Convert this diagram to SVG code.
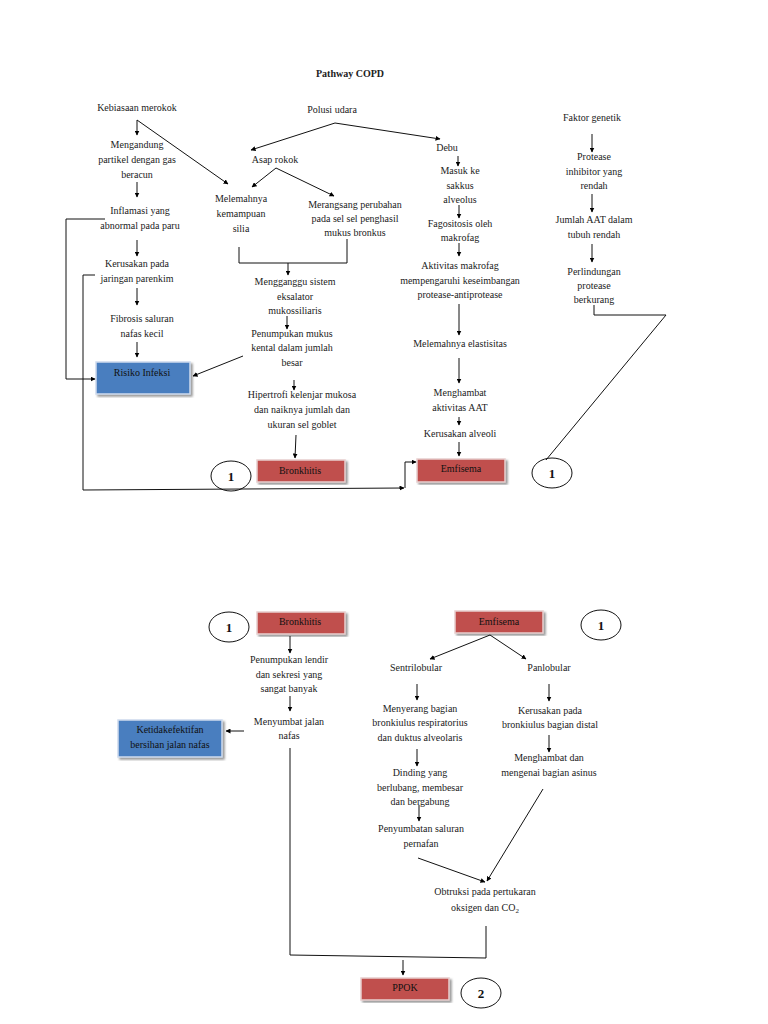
<svg xmlns="http://www.w3.org/2000/svg" width="768" height="1024" viewBox="0 0 768 1024">
<defs>
<marker id="a" viewBox="0 0 10 10" refX="9" refY="5" markerWidth="5" markerHeight="5" orient="auto"><path d="M0,0L10,5L0,10z" fill="#000"/></marker>
<filter id="sh"><feDropShadow dx="2" dy="2" stdDeviation="1" flood-color="#999"/></filter>
</defs>
<style>
text{font-family:"Liberation Serif",serif;font-size:10px;fill:#222;text-anchor:middle}
.c line,.c polyline,.c path{stroke:#111;stroke-width:1;fill:none}
.ar{marker-end:url(#a)}
.red{fill:#c0504d;stroke:#e8d0d0;stroke-width:1.5;filter:url(#sh)}
.blue{fill:#4a7ebf;stroke:#d0dcee;stroke-width:1.5;filter:url(#sh)}
.bx text{fill:#111}
ellipse{fill:#fff;stroke:#111;stroke-width:1}
.n{font-weight:bold;font-size:13px;fill:#111}
</style>
<rect width="768" height="1024" fill="#fff"/>
<text x="350" y="77" font-weight="bold">Pathway COPD</text>
<g id="nodes">
<g id="kebiasaan"><text x="137" y="111">Kebiasaan merokok</text></g>
<g id="mengandung"><text x="137" y="148">Mengandung</text><text x="137" y="163">partikel dengan gas</text><text x="137" y="178">beracun</text></g>
<g id="inflamasi"><text x="140" y="214">Inflamasi yang</text><text x="140" y="229">abnormal pada paru</text></g>
<g id="kerusakan"><text x="137" y="267">Kerusakan pada</text><text x="137" y="282">jaringan parenkim</text></g>
<g id="fibrosis"><text x="142" y="322">Fibrosis saluran</text><text x="142" y="337">nafas kecil</text></g>
<g id="risiko" class="bx"><rect class="blue" x="96" y="362" width="94" height="32"/><text x="142" y="376">Risiko Infeksi</text></g>
<g id="polusi"><text x="332" y="113">Polusi udara</text></g>
<g id="asap"><text x="275" y="163">Asap rokok</text></g>
<g id="melemahnya"><text x="241" y="202">Melemahnya</text><text x="241" y="217">kemampuan</text><text x="241" y="232">silia</text></g>
<g id="merangsang"><text x="355" y="208">Merangsang perubahan</text><text x="355" y="222">pada sel sel penghasil</text><text x="355" y="236">mukus bronkus</text></g>
<g id="mengganggu"><text x="295" y="285">Mengganggu sistem</text><text x="295" y="300">eksalator</text><text x="295" y="314">mukossiliaris</text></g>
<g id="penumpukan"><text x="292" y="337">Penumpukan mukus</text><text x="292" y="351">kental dalam jumlah</text><text x="292" y="366">besar</text></g>
<g id="hipertrofi"><text x="302" y="398">Hipertrofi kelenjar mukosa</text><text x="302" y="413">dan naiknya jumlah dan</text><text x="302" y="428">ukuran sel goblet</text></g>
<g id="bronkhitis1" class="bx"><rect class="red" x="257" y="460" width="88" height="22"/><text x="300" y="474">Bronkhitis</text></g>
<g id="c1a"><ellipse cx="231" cy="476" rx="20" ry="15"/><text class="n" x="231" y="481">1</text></g>
<g id="debu"><text x="447" y="151">Debu</text></g>
<g id="masuk"><text x="460" y="174">Masuk ke</text><text x="460" y="189">sakkus</text><text x="460" y="203">alveolus</text></g>
<g id="fagositosis"><text x="460" y="227">Fagositosis oleh</text><text x="460" y="241">makrofag</text></g>
<g id="aktivitas"><text x="460" y="269">Aktivitas makrofag</text><text x="460" y="284">mempengaruhi keseimbangan</text><text x="460" y="298">protease-antiprotease</text></g>
<g id="elastisitas"><text x="460" y="347">Melemahnya elastisitas</text></g>
<g id="menghambat"><text x="460" y="396">Menghambat</text><text x="460" y="411">aktivitas AAT</text></g>
<g id="alveoli"><text x="460" y="437">Kerusakan alveoli</text></g>
<g id="emfisema1" class="bx"><rect class="red" x="417" y="459" width="88" height="23"/><text x="461" y="472">Emfisema</text></g>
<g id="genetik"><text x="592" y="121">Faktor genetik</text></g>
<g id="protease"><text x="594" y="160">Protease</text><text x="594" y="175">inhibitor yang</text><text x="594" y="189">rendah</text></g>
<g id="jumlah"><text x="594" y="223">Jumlah AAT dalam</text><text x="594" y="238">tubuh rendah</text></g>
<g id="perlindungan"><text x="594" y="275">Perlindungan</text><text x="594" y="289">protease</text><text x="594" y="303">berkurang</text></g>
<g id="c1b"><ellipse cx="552" cy="473" rx="20" ry="15"/><text class="n" x="552" y="478">1</text></g>
<g id="c1c"><ellipse cx="229" cy="627" rx="20" ry="15"/><text class="n" x="229" y="632">1</text></g>
<g id="bronkhitis2" class="bx"><rect class="red" x="257" y="612" width="88" height="22"/><text x="300" y="625">Bronkhitis</text></g>
<g id="lendir"><text x="289" y="663">Penumpukan lendir</text><text x="289" y="678">dan sekresi yang</text><text x="289" y="692">sangat banyak</text></g>
<g id="menyumbat"><text x="289" y="725">Menyumbat jalan</text><text x="289" y="739">nafas</text></g>
<g id="ketidak" class="bx"><rect class="blue" x="118" y="720" width="104" height="37"/><text x="170" y="733">Ketidakefektifan</text><text x="170" y="748">bersihan jalan nafas</text></g>
<g id="emfisema2" class="bx"><rect class="red" x="455" y="611" width="88" height="22"/><text x="499" y="625">Emfisema</text></g>
<g id="c1d"><ellipse cx="601" cy="625" rx="20" ry="15"/><text class="n" x="601" y="630">1</text></g>
<g id="sentri"><text x="416" y="671">Sentrilobular</text></g>
<g id="panlo"><text x="549" y="671">Panlobular</text></g>
<g id="menyerang"><text x="420" y="712">Menyerang bagian</text><text x="420" y="726">bronkiulus respiratorius</text><text x="420" y="741">dan duktus alveolaris</text></g>
<g id="kerdistal"><text x="550" y="714">Kerusakan pada</text><text x="550" y="728">bronkiulus bagian distal</text></g>
<g id="asinus"><text x="549" y="761">Menghambat dan</text><text x="549" y="776">mengenai bagian asinus</text></g>
<g id="dinding"><text x="420" y="776">Dinding yang</text><text x="420" y="791">berlubang, membesar</text><text x="420" y="805">dan bergabung</text></g>
<g id="penyumbatan"><text x="421" y="832">Penyumbatan saluran</text><text x="421" y="847">pernafan</text></g>
<g id="obtruksi"><text x="485" y="895">Obtruksi pada pertukaran</text><text x="485" y="911">oksigen dan CO<tspan font-size="7" dy="2">2</tspan></text></g>
<g id="ppok" class="bx"><rect class="red" x="361" y="978" width="88" height="22"/><text x="405" y="991">PPOK</text></g>
<g id="c2"><ellipse cx="481" cy="993" rx="20" ry="15"/><text class="n" x="481" y="998">2</text></g>
</g>
<g id="connectors" class="c">
<line class="ar" x1="137" y1="120" x2="137" y2="135"/>
<line class="ar" x1="137" y1="120" x2="228" y2="184"/>
<line class="ar" x1="137" y1="182" x2="137" y2="197"/>
<line class="ar" x1="137" y1="240" x2="137" y2="256"/>
<line class="ar" x1="137" y1="288" x2="137" y2="305"/>
<line class="ar" x1="137" y1="342" x2="137" y2="357"/>
<polyline class="ar" points="105,219 66,219 66,379 95,379"/>
<polyline class="ar" points="95,275 83,275 83,490 404,488"/>
<polyline class="ar" points="405,488 405,462 416,462"/>
<line class="ar" x1="335" y1="123" x2="251" y2="150"/>
<line class="ar" x1="335" y1="123" x2="440" y2="139"/>
<line class="ar" x1="276" y1="168" x2="252" y2="187"/>
<line class="ar" x1="276" y1="168" x2="334" y2="196"/>
<polyline points="239,247 239,263 347,263 347,239"/>
<line class="ar" x1="288" y1="263" x2="288" y2="275"/>
<line class="ar" x1="287" y1="316" x2="287" y2="329"/>
<line class="ar" x1="243" y1="356" x2="193" y2="376"/>
<line class="ar" x1="294" y1="380" x2="294" y2="390"/>
<line class="ar" x1="296" y1="435" x2="295" y2="458"/>
<line class="ar" x1="458" y1="156" x2="458" y2="166"/>
<line class="ar" x1="459" y1="205" x2="459" y2="218"/>
<line class="ar" x1="459" y1="243" x2="459" y2="256"/>
<line class="ar" x1="459" y1="304" x2="459" y2="335"/>
<line class="ar" x1="459" y1="358" x2="459" y2="383"/>
<line class="ar" x1="459" y1="417" x2="459" y2="425"/>
<line class="ar" x1="459" y1="442" x2="459" y2="456"/>
<line class="ar" x1="592" y1="134" x2="592" y2="152"/>
<line class="ar" x1="592" y1="194" x2="592" y2="212"/>
<line class="ar" x1="592" y1="244" x2="592" y2="262"/>
<polyline points="594,305 594,315 666,315 546,460"/>
<line class="ar" x1="290" y1="636" x2="290" y2="653"/>
<line class="ar" x1="290" y1="696" x2="290" y2="711"/>
<line class="ar" x1="244" y1="731" x2="226" y2="731"/>
<polyline points="290,748 290,955 486,958 486,926"/>
<line class="ar" x1="403" y1="960" x2="403" y2="975"/>
<line class="ar" x1="490" y1="635" x2="430" y2="659"/>
<line class="ar" x1="490" y1="635" x2="526" y2="659"/>
<line class="ar" x1="417" y1="684" x2="417" y2="700"/>
<line class="ar" x1="549" y1="684" x2="549" y2="701"/>
<line class="ar" x1="549" y1="735" x2="549" y2="752"/>
<line class="ar" x1="417" y1="749" x2="417" y2="766"/>
<line class="ar" x1="419" y1="805" x2="419" y2="821"/>
<line class="ar" x1="418" y1="858" x2="485" y2="882"/>
<line class="ar" x1="543" y1="789" x2="487" y2="881"/>
</g>
</svg>
